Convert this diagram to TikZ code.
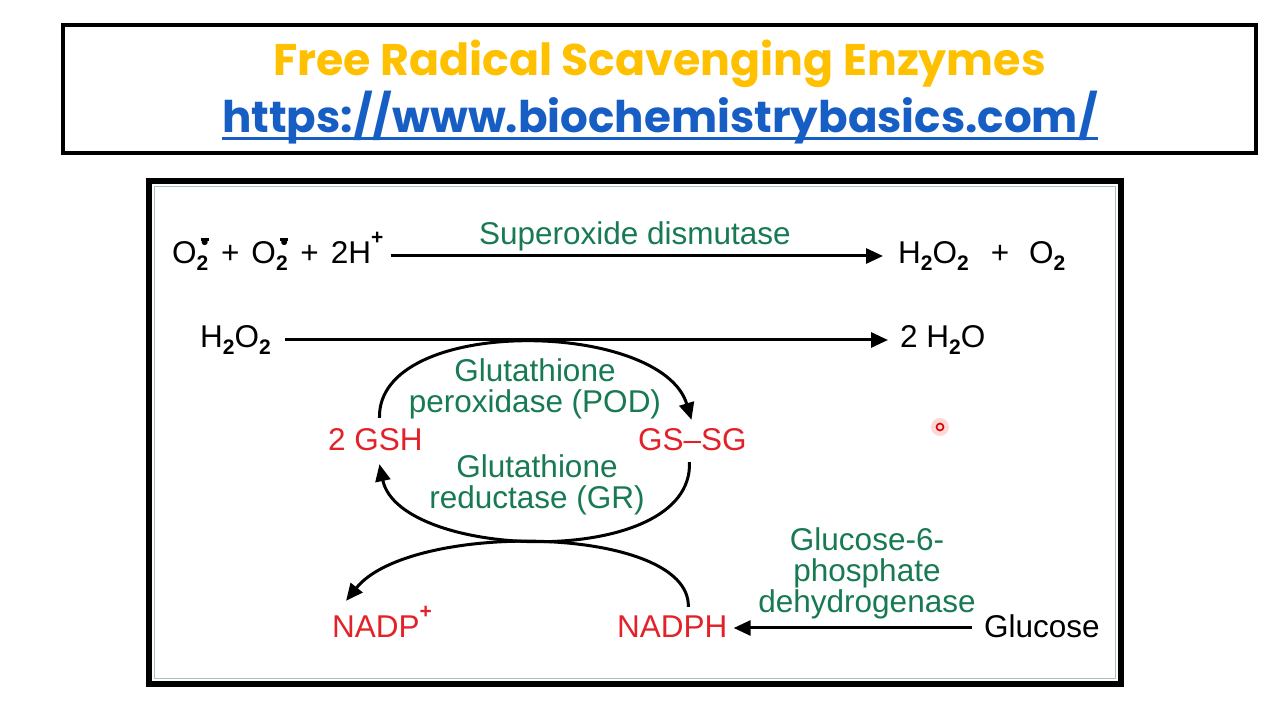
\documentclass[tikz,border=0pt]{standalone}
\usepackage{fontspec}
\setmainfont{Liberation Sans}
\newfontfamily\titlefont{Poppins}
\usetikzlibrary{arrows.meta,calc}
\definecolor{enz}{RGB}{24,122,82}
\definecolor{spc}{RGB}{226,34,40}
\definecolor{ttl}{RGB}{255,192,0}
\definecolor{urlc}{RGB}{22,94,196}
\definecolor{frameline}{RGB}{170,195,190}
\newcommand{\lo}[1]{\raisebox{-0.2em}{\fontsize{21}{21}\selectfont\bfseries #1}}
\newcommand{\hi}[1]{\raisebox{0.62em}{\fontsize{21}{21}\selectfont\bfseries #1}}
\newcommand{\radic}{\raisebox{0.46em}{\fontsize{21}{21}\selectfont\shortstack{\rule{0.4em}{2.2pt}\\[-4pt]\textbf{•}}}}
\newcommand{\osr}{O\rlap{\lo{2}}\hspace{4pt}\radic}
\begin{document}
\begin{tikzpicture}[x=1pt,y=1pt,
  species/.style={inner sep=0pt,text height=22pt,text depth=6pt,font=\fontsize{31.5}{31.5}\selectfont},
  enzlab/.style={inner sep=0pt,align=center,text=enz,font=\fontsize{31.5}{31}\selectfont},
  arr/.style={line width=3pt,-{Triangle[length=17pt,width=15pt]}}]
\useasboundingbox (0,0) rectangle (1280,720);
\fill[white] (0,0) rectangle (1280,720);
% title frame
\draw[line width=4pt] (63,695) rectangle (1256,567);
\node[font=\titlefont\bfseries\fontsize{44.3}{44.3}\selectfont,text=ttl,inner sep=0pt] (title) at (659.5,656) {Free Radical Scavenging Enzymes};
\node[font=\titlefont\bfseries\fontsize{43.6}{43.6}\selectfont,text=urlc,inner sep=0pt,anchor=base] (url) at (660,587) {https://www.biochemistrybasics.com/};
\draw[urlc,line width=3pt] ($(url.base west)+(0,-6)$) -- ($(url.base east)+(0,-6)$);
% diagram frame
\draw[line width=6pt] (149,539) rectangle (1121,36);
\draw[frameline,line width=1.2pt] (154.5,533.5) rectangle (1115.5,41.5);
% species
\node[species,anchor=base west] (r1) at (172,456) {\osr\hspace{12pt}+\hspace{12pt}\osr\hspace{12pt}+\hspace{12pt}2H\hi{+}};
\node[species,anchor=base west] (p1) at (898,456) {H\lo{2}O\lo{2}\hspace{22pt}+\hspace{20pt}O\lo{2}};
\node[species,anchor=base west] (r2) at (200,372) {H\lo{2}O\lo{2}};
\node[species,anchor=base west] (p2) at (900,372) {2 H\lo{2}O};
\node[species,anchor=base west,text=spc] (gsh) at (328,269) {2 GSH};
\node[species,anchor=base west,text=spc] (gssg) at (638,269) {GS–SG};
\node[species,anchor=base west,text=spc] (nadp) at (332,82) {NADP\hi{+}};
\node[species,anchor=base west,text=spc] (nadph) at (617,82) {NADPH};
\node[species,anchor=base west] (glc) at (984,82) {Glucose};
% enzyme labels (base = last line)
\node[enzlab,anchor=base] (sod) at (635,475) {Superoxide dismutase};
\node[enzlab,anchor=base] (pod) at (535,307) {Glutathione\\peroxidase (POD)};
\node[enzlab,anchor=base] (gr) at (537,211) {Glutathione\\reductase (GR)};
\node[enzlab,anchor=base] (g6pd) at (867,107) {Glucose-6-\\phosphate\\dehydrogenase};
% reactions
\draw[arr,shorten <=7pt,shorten >=15pt] (r1.east) -- (p1.west);
\draw[arr,shorten <=14pt,shorten >=12pt] (r2.east) -- (p2.west);
\draw[arr,shorten <=12pt,shorten >=6pt] ([yshift=2pt]glc.west) -- ([yshift=2pt]nadph.east);
\draw[arr] ($(gsh.north)+(4,11)$) .. controls +(-2,103) and +(-30,100) .. ($(gssg.north)+(-1,9)$);
\draw[arr] ($(gssg.south)+(-3,-5)$) .. controls +(4,-108) and +(20,-96) .. ($(gsh.south)+(4,-7)$);
\draw[arr] ($(nadph.north)+(16,9)$) .. controls +(2,82) and +(64,80) .. ($(nadp.north)+(-36,15)$);
% pointer mark
\fill[red!25,opacity=0.6] (940,293) circle (9);
\draw[red!85!black,line width=1.6pt] (940,293) circle (3.5);
\end{tikzpicture}
\end{document}
